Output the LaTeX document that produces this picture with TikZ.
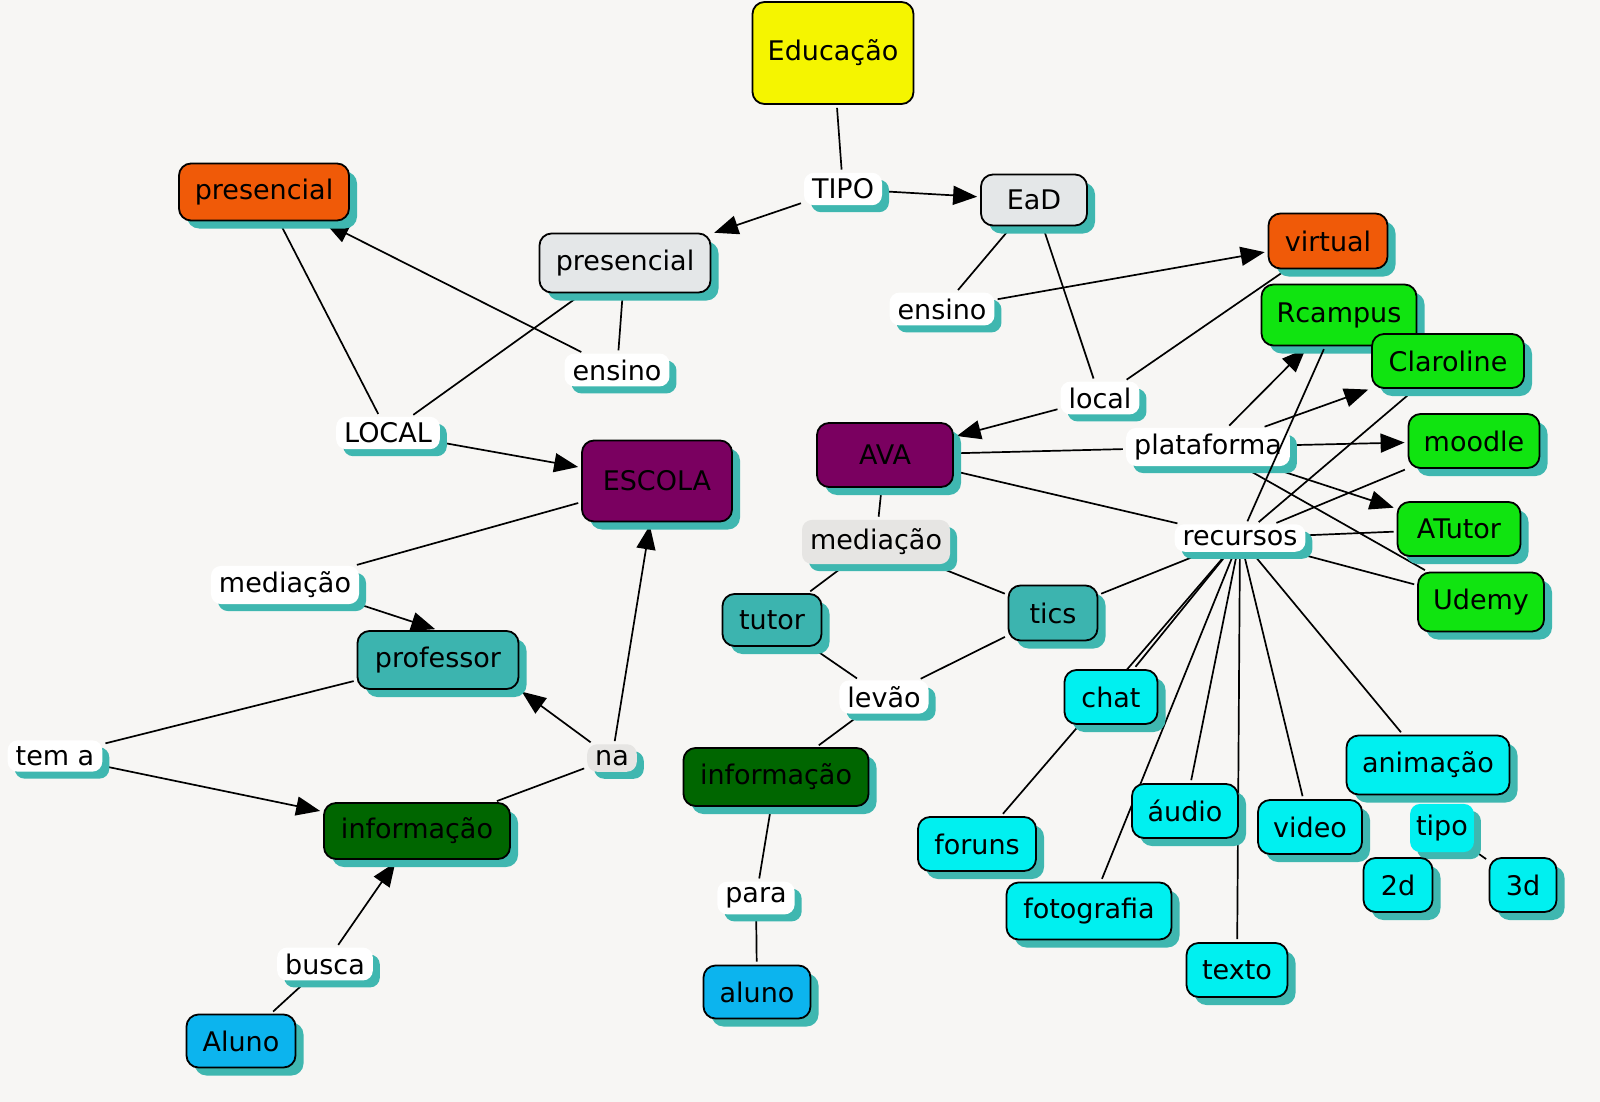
\documentclass[tikz,border=0pt]{standalone}
\usepackage{fontspec}
\setmainfont{DejaVu Sans}
\usetikzlibrary{arrows.meta,shadows}
\definecolor{bgc}{RGB}{247,246,244}
\definecolor{shadowc}{RGB}{63,183,176}
\definecolor{yelc}{RGB}{245,245,0}
\definecolor{orngc}{RGB}{240,90,8}
\definecolor{lgrayc}{RGB}{228,231,232}
\definecolor{lgrayl}{RGB}{230,229,227}
\definecolor{purpc}{RGB}{122,0,96}
\definecolor{tealc}{RGB}{60,180,175}
\definecolor{dgreenc}{RGB}{0,102,0}
\definecolor{skyc}{RGB}{12,180,238}
\definecolor{bgreenc}{RGB}{16,228,16}
\definecolor{cyanc}{RGB}{0,240,240}
\pgfdeclarelayer{backl}
\pgfdeclarelayer{edgel}
\pgfsetlayers{backl,edgel,main}
\begin{document}
\begin{tikzpicture}[x=1pt,y=-1pt,
  every node/.style={font=\fontsize{27}{31}\selectfont, text=black},
  conceptns/.style={draw=black, line width=1.8pt, rounded corners=12pt, inner sep=0pt},
  concept/.style={conceptns, general shadow={fill=shadowc, shadow xshift=8pt, shadow yshift=-8pt}},
  sz/.style 2 args={minimum width=#1pt, minimum height=#2pt},
  link/.style={fill=white, rounded corners=10pt, inner xsep=8pt, inner ysep=6pt,
    general shadow={fill=shadowc, shadow xshift=7pt, shadow yshift=-7pt}},
  edge/.style={line width=1.7pt, black, shorten <=3pt, shorten >=3pt},
  arr/.style={edge, -{Triangle[length=24pt,width=19pt]}},
]
\begin{pgfonlayer}{backl}
\fill[bgc] (0,0) rectangle (1600,1102);
\end{pgfonlayer}
\useasboundingbox (0,0) rectangle (1600,1102);

% nodes
\node[conceptns, fill=yelc, sz={161}{102}] (edu) at (833,53) {Educação};
\node[link] (tipo) at (843,189) {TIPO};
\node[concept, fill=lgrayc, sz={106}{51}] (ead) at (1034,200) {EaD};
\node[concept, fill=lgrayc, sz={171}{59}] (presG) at (625,263) {presencial};
\node[concept, fill=orngc, sz={170}{57}] (presO) at (264,192) {presencial};
\node[link] (ensL) at (617,370) {ensino};
\node[link] (localL) at (388,433) {LOCAL};
\node[concept, fill=purpc, sz={150}{81}] (escola) at (657,481) {ESCOLA};
\node[link] (medL) at (285,585) {mediação};
\node[concept, fill=tealc, sz={161}{58}] (prof) at (438,660) {professor};
\node[link] (tema) at (55,756) {tem a};
\node[link, fill=lgrayl] (na) at (612,758) {na};
\node[concept, fill=dgreenc, sz={186}{56}] (infoL) at (417,831) {informação};
\node[link] (busca) at (325,964) {busca};
\node[concept, fill=skyc, sz={109}{53}] (alunoL) at (241,1041) {Aluno};
\node[concept, fill=purpc, sz={136}{64}] (ava) at (885,455) {AVA};
\node[link, fill=lgrayl, inner ysep=9pt] (medM) at (876,542) {mediação};
\node[concept, fill=tealc, sz={99}{52}] (tutor) at (772,620) {tutor};
\node[concept, fill=tealc, sz={89}{55}] (tics) at (1053,613) {tics};
\node[link] (levao) at (884,697) {levão};
\node[concept, fill=dgreenc, sz={185}{58}] (infoM) at (776,777) {informação};
\node[link] (para) at (756,898) {para};
\node[concept, fill=skyc, sz={107}{53}] (alunoM) at (757,992) {aluno};
\node[link] (ensR) at (942,309) {ensino};
\node[link] (localR) at (1100,398) {local};
\node[concept, fill=orngc, sz={119}{55}] (virtual) at (1328,241) {virtual};
\node[concept, fill=bgreenc, sz={155}{61}] (rcampus) at (1339,315) {Rcampus};
\node[concept, fill=bgreenc, sz={152}{54}] (claroline) at (1448,361) {Claroline};
\node[concept, fill=bgreenc, sz={131}{54}] (moodle) at (1474,441) {moodle};
\node[concept, fill=bgreenc, sz={123}{54}] (atutor) at (1459,529) {ATutor};
\node[concept, fill=bgreenc, sz={126}{59}] (udemy) at (1481,602) {Udemy};
\node[link] (plat) at (1208,447) {plataforma};
\node[link] (recursos) at (1240,538) {recursos};
\node[concept, fill=cyanc, sz={93}{54}] (chat) at (1111,697) {chat};
\node[concept, fill=cyanc, sz={118}{54}] (foruns) at (977,844) {foruns};
\node[concept, fill=cyanc, sz={106}{54}] (audio) at (1185,811) {áudio};
\node[concept, fill=cyanc, sz={104}{54}] (video) at (1310,827) {video};
\node[concept, fill=cyanc, sz={163}{59}] (anim) at (1428,765) {animação};
\node[link, fill=cyanc, inner ysep=11pt, inner xsep=6pt] (tipo2) at (1442,828) {tipo};
\node[concept, fill=cyanc, sz={69}{54}] (d2) at (1398,885) {2d};
\node[concept, fill=cyanc, sz={67}{54}] (d3) at (1523,885) {3d};
\node[concept, fill=cyanc, sz={165}{57}] (foto) at (1089,911) {fotografia};
\node[concept, fill=cyanc, sz={101}{54}] (texto) at (1237,970) {texto};

% connectors
\begin{pgfonlayer}{edgel}
\draw[edge] (edu) -- (tipo);
\draw[arr] (tipo) -- (presG);
\draw[arr] (tipo) -- (ead);
\draw[edge] (presG) -- (ensL);
\draw[arr] (ensL) -- (presO);
\draw[edge] (presO) -- (localL);
\draw[edge] (presG) -- (localL);
\draw[arr] (localL) -- (escola);
\draw[edge] (escola) -- (medL);
\draw[arr] (medL.south east) -- (prof.north);
\draw[edge] (prof) -- (tema);
\draw[arr] (tema) -- (infoL);
\draw[arr] (na) -- (prof.south east);
\draw[arr] (na) -- (escola);
\draw[edge] (infoL) -- (na);
\draw[edge] (alunoL) -- (busca);
\draw[arr] (busca) -- (infoL);
\draw[edge] (ead) -- (ensR);
\draw[arr] (ensR) -- (virtual);
\draw[edge] (ead) -- (localR);
\draw[edge] (localR) -- (virtual);
\draw[arr] (localR) -- (ava);
\draw[edge] (ava) -- (plat);
\draw[edge] (ava) -- (recursos);
\draw[edge] (ava) -- (medM);
\draw[edge] (medM) -- (tutor);
\draw[edge] (medM) -- (tics);
\draw[edge] (tutor) -- (levao);
\draw[edge] (tics) -- (levao);
\draw[edge] (levao) -- (infoM);
\draw[edge] (infoM) -- (para);
\draw[edge] (para) -- (alunoM);
\foreach \t in {rcampus,claroline,moodle,atutor} \draw[arr] (plat) -- (\t);
\draw[edge] (plat) -- (udemy);
\foreach \t in {claroline,moodle,atutor,udemy,tics,chat,foruns,foto,audio,texto,video,anim}
  \draw[edge] (recursos) -- (\t);
\draw[edge] (anim) -- (tipo2);
\draw[edge] (tipo2) -- (d2);
\draw[edge] (tipo2) -- (d3);
\end{pgfonlayer}
\draw[edge] (recursos) -- (rcampus);
\end{tikzpicture}
\end{document}
